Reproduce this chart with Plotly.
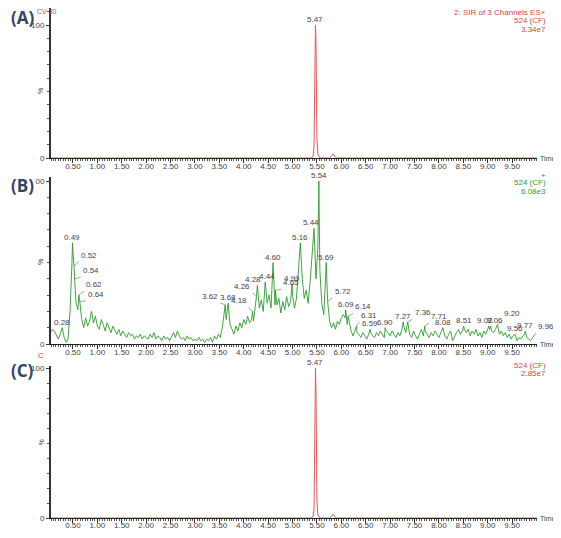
import numpy as np
import plotly.graph_objects as go

# page body keeps an 8 px margin, so the figure is drawn 8 px in from the window corner
W, H = 553, 522
OFF = 8

# (A) SIR 524 (CF), 3.34e7 - percent of max
a_time = [0.05, 5.38, 5.42, 5.44, 5.45, 5.46, 5.47, 5.48, 5.49, 5.50, 5.52, 5.56, 5.76, 5.80, 5.83, 5.86, 5.90, 10.01]
a_int = [0, 0, 1, 8, 40, 85, 100, 88, 45, 15, 3, 0, 0, 1.5, 3, 1.5, 0, 0]

# (C) SIR 524 (CF), 2.85e7
c_time = [0.05, 5.38, 5.42, 5.44, 5.45, 5.46, 5.47, 5.48, 5.49, 5.50, 5.52, 5.56, 5.76, 5.80, 5.83, 5.86, 5.90, 10.01]
c_int = [0, 0, 1, 6, 35, 82, 100, 86, 40, 12, 2, 0, 0, 1, 2.5, 1, 0, 0]

# (B) 524 (CF), 6.08e3 - scan values every 0.04 min, then labelled apexes
b_scan_int = [
    7, 9, 8, 5, 3, 6, 8, 4, 1, 3, 20, 50, 45, 26, 21, 24, 15, 10, 16, 11, 14, 20, 13, 17, 11,
    9, 15, 12, 8, 13, 10, 7, 11, 8, 6, 9, 5, 8, 6, 4, 7, 5, 6, 3, 5, 4, 6, 3, 5, 4,
    3, 6, 4, 7, 3, 5, 4, 2, 5, 3, 4, 2, 5, 7, 4, 8, 5, 3, 4, 2, 5, 3, 4, 2, 3,
    2, 4, 2, 3, 1, 3, 2, 4, 1, 5, 3, 6, 4, 10, 18, 15, 20, 12, 9, 6, 11, 8, 13, 10, 15,
    12, 17, 13, 15, 14, 22, 30, 22, 27, 20, 30, 25, 30, 22, 40, 24, 24, 28, 19, 26, 21, 29, 23, 26, 30,
    22, 28, 45, 55, 40, 28, 33, 25, 38, 55, 65, 40, 60, 45, 25, 18, 42, 22, 14, 10, 13, 9, 14, 12, 16,
    18, 16, 12, 13, 8, 5, 9, 7, 6, 4, 7, 5, 3, 6, 7, 5, 4, 7, 5, 8, 6, 4, 8, 7, 5,
    8, 6, 4, 7, 5, 9, 11, 7, 10, 6, 4, 8, 5, 3, 6, 9, 5, 8, 6, 4, 7, 5, 8, 6, 4,
    7, 8, 5, 3, 6, 8, 2, 5, 7, 9, 6, 8, 9, 7, 9, 5, 8, 6, 9, 5, 7, 4, 8, 6, 9,
    9, 8, 7, 9, 10, 6, 8, 5, 7, 4, 6, 3, 5, 4, 2, 4, 3, 5, 6, 4, 3, 2, 4, 4,
]
b_apex_time = [0.28, 0.49, 0.52, 0.54, 0.62, 0.64, 3.62, 3.68, 4.18, 4.26, 4.28, 4.44, 4.60, 4.65,
               4.99, 5.16, 5.44, 5.54, 5.69, 5.72, 6.09, 6.14, 6.31, 6.59, 6.90, 7.27, 7.36, 7.71,
               8.08, 8.51, 9.02, 9.06, 9.20, 9.56, 9.77, 9.96]
b_apex_int = [10, 62, 48, 40, 30, 26, 24, 25, 20, 29, 36, 38, 50, 33,
              37, 62, 71, 100, 50, 26, 21, 17, 11, 9, 10, 13.5, 13.5, 11,
              10, 11, 11, 11, 12, 6, 8, 5.5]

x_ticks = [0.5, 1.0, 1.5, 2.0, 2.5, 3.0, 3.5, 4.0, 4.5, 5.0, 5.5, 6.0, 6.5, 7.0, 7.5, 8.0, 8.5, 9.0, 9.5]

b_scan_time = np.round((np.arange(len(b_scan_int)) + 1) * 0.04, 2)
merged = dict(zip(b_scan_time.tolist(), b_scan_int))
merged.update(zip(b_apex_time, b_apex_int))
b_time = sorted(merged)
b_int = [merged[t] for t in b_time]


def py(px):
    return 1 - (px - OFF) / H


def px_x(px):
    return (px - OFF) / W


RED = "#e05a5a"
GREEN = "#2e9b2e"
TXT = "#444444"
FONT = "Liberation Sans, Arial, sans-serif"

# panel geometry in window pixels: (zero row, top row, pixels for 100 %)
panels = [(158, 8, 133), (344, 177, 163), (518, 366, 150)]
x_dom = [px_x(51), px_x(537)]
x_rng = [0.05, 10.01]

fig = go.Figure()
fig.add_trace(go.Scatter(x=a_time, y=a_int, mode="lines", line=dict(color=RED, width=1),
                         xaxis="x", yaxis="y", showlegend=False))
fig.add_trace(go.Scatter(x=b_time, y=b_int, mode="lines", line=dict(color=GREEN, width=0.9),
                         xaxis="x2", yaxis="y2", showlegend=False))
fig.add_trace(go.Scatter(x=c_time, y=c_int, mode="lines", line=dict(color=RED, width=1),
                         xaxis="x3", yaxis="y3", showlegend=False))

top_labels = ["100", "00", "100"]
layout = {}
for i, (zero, top, per100) in enumerate(panels):
    n = "" if i == 0 else str(i + 1)
    ymax = 100 * (zero - top) / per100
    layout["xaxis" + n] = dict(
        domain=x_dom, anchor="y" + n, range=x_rng, automargin=False,
        tickmode="array", tickvals=x_ticks, tickformat=".2f",
        ticks="outside", ticklen=4, tickcolor="#333", tickwidth=1,
        ticklabelstandoff=-5 if i == 2 else -4,
        minor=dict(tickmode="linear", tick0=0, dtick=0.05, ticks="outside", ticklen=2, tickcolor="#555"),
        showline=True, linecolor="#222", linewidth=1, showgrid=False, zeroline=False,
        tickfont=dict(size=8, color=TXT, family=FONT), layer="below traces",
    )
    layout["yaxis" + n] = dict(
        domain=[py(zero), py(top)], anchor="x" + n, range=[0, ymax], automargin=False,
        tickmode="array", tickvals=[0, 100], ticktext=["0", top_labels[i]],
        ticks="outside", ticklen=3, tickcolor="#333",
        minor=dict(tickmode="linear", tick0=0, dtick=10, ticks="outside", ticklen=2, tickcolor="#555"),
        showline=True, linecolor="#333", linewidth=2, showgrid=False, zeroline=False,
        tickfont=dict(size=8, color=TXT, family=FONT), layer="below traces",
    )
    fig.add_annotation(x=px_x(35), y=50, xref="paper", yref="y" + n, text="%", textangle=-90,
                       showarrow=False, font=dict(size=7, color=TXT, family=FONT))
    fig.add_annotation(x=px_x(538), y=py(zero), xref="paper", yref="paper", text="Time",
                       xanchor="left", yanchor="middle", showarrow=False,
                       font=dict(size=7, color=TXT, family=FONT))

for lbl, ypx in [("(A)", 17), ("(B)", 185), ("(C)", 370)]:
    fig.add_annotation(x=px_x(9), y=py(ypx), xref="paper", yref="paper",
                       text="<b>%s</b>" % lbl, xanchor="left", yanchor="middle", showarrow=False,
                       font=dict(size=17, color="#34465e", family="Open Sans, sans-serif"))

fig.update_layout(**layout)

# SIR peak labels
fig.add_annotation(x=5.47, y=100, xref="x", yref="y", text="5.47", yanchor="bottom", yshift=-1,
                   showarrow=False, font=dict(size=8, color=TXT, family=FONT))
fig.add_annotation(x=5.47, y=100, xref="x3", yref="y3", text="5.47", yanchor="bottom", yshift=-1,
                   showarrow=False, font=dict(size=8, color=TXT, family=FONT))

# (B) apex labels, some with short leader lines
b_lead = {0.52: (5, -4), 0.54: (6, -2), 0.62: (5, -4), 0.64: (6, -1), 3.62: (-5, -2),
          4.18: (-4, -4), 4.26: (-4, -4), 4.65: (6, -1), 5.72: (5, -4),
          6.14: (5, -3), 6.31: (3, -4), 7.36: (5, -3), 7.71: (4, -3), 9.20: (5, -4), 9.96: (1, -2)}
b_shift = {9.02: -4, 9.06: 4, 4.28: -4, 4.44: 2, 5.44: -3}
for t, v in zip(b_apex_time, b_apex_int):
    lbl = "%.2f" % t
    if t in b_lead:
        ax, ay = b_lead[t]
        fig.add_annotation(x=t, y=v, xref="x2", yref="y2", text=lbl, showarrow=True,
                           arrowhead=0, arrowwidth=0.6, arrowcolor="#666", standoff=0,
                           ax=ax, ay=ay, xanchor="left" if ax > 0 else "right", yanchor="bottom",
                           font=dict(size=8, color=TXT, family=FONT))
    else:
        fig.add_annotation(x=t, y=v, xref="x2", yref="y2", text=lbl, yanchor="bottom", yshift=-1,
                           xshift=b_shift.get(t, 0),
                           showarrow=False, font=dict(size=8, color=TXT, family=FONT))

# header texts
def side_text(txt, px, ypx, color, anchor="right", size=8):
    fig.add_annotation(x=px_x(px), y=py(ypx), xref="paper", yref="paper", text=txt,
                       xanchor=anchor, yanchor="middle", showarrow=False,
                       font=dict(size=size, color=color, family=FONT))


side_text("2: SIR of 3 Channels ES+", 548, 13, "#d04848")
side_text("524 (CF)", 548, 21, "#d04848")
side_text("3.34e7", 548, 29, "#d04848")
side_text("CV 30", 35, 12, "#d04848", anchor="left", size=7)
side_text("+", 548, 175, GREEN)
side_text("524 (CF)", 548, 183, GREEN)
side_text("6.08e3", 548, 191, GREEN)
side_text("C", 36, 355, "#d04848", anchor="left")
side_text("524 (CF)", 548, 365, "#d04848")
side_text("2.85e7", 548, 373, "#d04848")

fig.update_layout(
    width=W, height=H, autosize=False,
    margin=dict(l=0, r=0, t=0, b=0, autoexpand=False),
    paper_bgcolor="white", plot_bgcolor="white",
    font=dict(family=FONT, size=8, color=TXT),
)

fig.write_html("out.html")
